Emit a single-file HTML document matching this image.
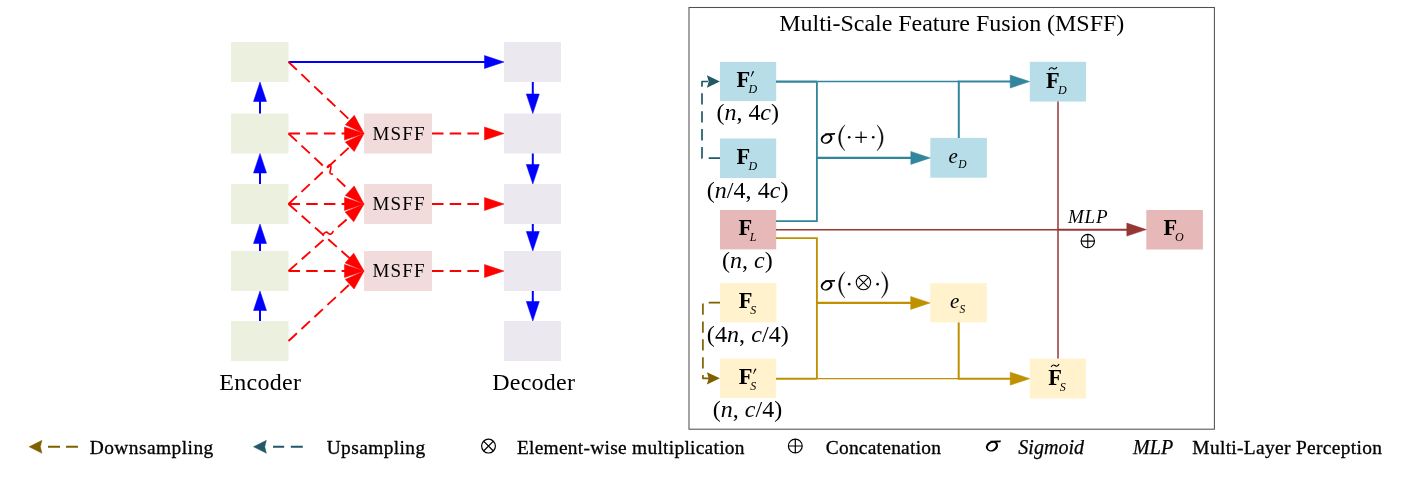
<!DOCTYPE html>
<html><head><meta charset="utf-8"><title>MSFF</title>
<style>
html,body{margin:0;padding:0;background:#fff;}
body{width:1402px;height:482px;overflow:hidden;font-family:"Liberation Serif",serif;}
svg{display:block;will-change:transform;}
</style></head><body>
<svg width="1402" height="482" viewBox="0 0 1402 482" font-family="'Liberation Serif', serif">
<rect x="0" y="0" width="1402" height="482" fill="#ffffff"/>
<rect x="231" y="42" width="57.5" height="40" fill="#ebf1de"/>
<rect x="504" y="42" width="57" height="40" fill="#ebe8f0"/>
<rect x="231" y="113.5" width="57.5" height="40" fill="#ebf1de"/>
<rect x="504" y="113.5" width="57" height="40" fill="#ebe8f0"/>
<rect x="231" y="184" width="57.5" height="40" fill="#ebf1de"/>
<rect x="504" y="184" width="57" height="40" fill="#ebe8f0"/>
<rect x="231" y="251" width="57.5" height="40" fill="#ebf1de"/>
<rect x="504" y="251" width="57" height="40" fill="#ebe8f0"/>
<rect x="231" y="321" width="57.5" height="40" fill="#ebf1de"/>
<rect x="504" y="321" width="57" height="40" fill="#ebe8f0"/>
<rect x="364" y="113.5" width="68" height="40" fill="#f2dcdb"/>
<rect x="364" y="184" width="68" height="40" fill="#f2dcdb"/>
<rect x="364" y="251" width="68" height="40" fill="#f2dcdb"/>
<line x1="260" y1="113.5" x2="260" y2="100" stroke="#0000ff" stroke-width="2"/>
<polygon points="260.00,82.00 266.50,101.50 253.50,101.50" fill="#0000ff" stroke="#0000ff" stroke-width="0.5" stroke-linejoin="miter"/>
<line x1="260" y1="184" x2="260" y2="171.5" stroke="#0000ff" stroke-width="2"/>
<polygon points="260.00,153.50 266.50,173.00 253.50,173.00" fill="#0000ff" stroke="#0000ff" stroke-width="0.5" stroke-linejoin="miter"/>
<line x1="260" y1="251" x2="260" y2="242" stroke="#0000ff" stroke-width="2"/>
<polygon points="260.00,224.00 266.50,243.50 253.50,243.50" fill="#0000ff" stroke="#0000ff" stroke-width="0.5" stroke-linejoin="miter"/>
<line x1="260" y1="321" x2="260" y2="309" stroke="#0000ff" stroke-width="2"/>
<polygon points="260.00,291.00 266.50,310.50 253.50,310.50" fill="#0000ff" stroke="#0000ff" stroke-width="0.5" stroke-linejoin="miter"/>
<line x1="532.8" y1="82" x2="532.8" y2="95.5" stroke="#0000ff" stroke-width="2"/>
<polygon points="532.80,113.50 526.30,94.00 539.30,94.00" fill="#0000ff" stroke="#0000ff" stroke-width="0.5" stroke-linejoin="miter"/>
<line x1="532.8" y1="153.5" x2="532.8" y2="166" stroke="#0000ff" stroke-width="2"/>
<polygon points="532.80,184.00 526.30,164.50 539.30,164.50" fill="#0000ff" stroke="#0000ff" stroke-width="0.5" stroke-linejoin="miter"/>
<line x1="532.8" y1="224" x2="532.8" y2="233" stroke="#0000ff" stroke-width="2"/>
<polygon points="532.80,251.00 526.30,231.50 539.30,231.50" fill="#0000ff" stroke="#0000ff" stroke-width="0.5" stroke-linejoin="miter"/>
<line x1="532.8" y1="291" x2="532.8" y2="303" stroke="#0000ff" stroke-width="2"/>
<polygon points="532.80,321.00 526.30,301.50 539.30,301.50" fill="#0000ff" stroke="#0000ff" stroke-width="0.5" stroke-linejoin="miter"/>
<line x1="288.5" y1="62" x2="486" y2="62" stroke="#0000ff" stroke-width="2"/>
<polygon points="504.00,62.00 484.50,68.50 484.50,55.50" fill="#0000ff" stroke="#0000ff" stroke-width="0.5" stroke-linejoin="miter"/>
<line x1="288.5" y1="62.0" x2="351.66" y2="121.81" stroke="#ff0000" stroke-width="1.9" stroke-dasharray="11.5 6.2"/>
<polygon points="364.00,133.50 345.37,124.81 354.31,115.37" fill="#ff0000" stroke="#ff0000" stroke-width="0.5" stroke-linejoin="miter"/>
<line x1="288.5" y1="133.5" x2="347.00" y2="133.50" stroke="#ff0000" stroke-width="1.9" stroke-dasharray="11.5 6.2"/>
<polygon points="364.00,133.50 344.50,140.00 344.50,127.00" fill="#ff0000" stroke="#ff0000" stroke-width="0.5" stroke-linejoin="miter"/>
<line x1="288.5" y1="204.0" x2="351.57" y2="145.10" stroke="#ff0000" stroke-width="1.9" stroke-dasharray="11.5 6.2"/>
<polygon points="364.00,133.50 354.18,151.56 345.31,142.06" fill="#ff0000" stroke="#ff0000" stroke-width="0.5" stroke-linejoin="miter"/>
<line x1="432" y1="133.5" x2="486" y2="133.5" stroke="#ff0000" stroke-width="1.9" stroke-dasharray="11.5 6.2"/>
<polygon points="504.00,133.50 484.50,140.00 484.50,127.00" fill="#ff0000" stroke="#ff0000" stroke-width="0.5" stroke-linejoin="miter"/>
<path d="M288.50 133.50L296.91 141.35 M301.44 145.58L309.84 153.43 M314.37 157.66L322.78 165.51 M336.89 178.68L345.29 186.53" stroke="#ff0000" stroke-width="1.9" fill="none"/>
<polygon points="364.00,204.00 345.31,195.44 354.18,185.94" fill="#ff0000" stroke="#ff0000" stroke-width="0.5" stroke-linejoin="miter"/>
<path d="M327.4 167.2 C328.4 165 330 164 330.7 165.8 C331.5 168 330.7 170 330.1 171.5 C329.6 173.2 330.6 174.2 332.4 174" stroke="#ff0000" stroke-width="1.7" fill="none" stroke-linecap="round"/>
<line x1="288.5" y1="204.0" x2="347.00" y2="204.00" stroke="#ff0000" stroke-width="1.9" stroke-dasharray="11.5 6.2"/>
<polygon points="364.00,204.00 344.50,210.50 344.50,197.50" fill="#ff0000" stroke="#ff0000" stroke-width="0.5" stroke-linejoin="miter"/>
<path d="M288.50 271.00L297.10 263.37 M301.74 259.25L310.34 251.62 M314.98 247.50L323.58 239.87 M338.01 227.06L346.62 219.43" stroke="#ff0000" stroke-width="1.9" fill="none"/>
<polygon points="364.00,204.00 353.73,221.80 345.10,212.08" fill="#ff0000" stroke="#ff0000" stroke-width="0.5" stroke-linejoin="miter"/>
<path d="M323.2 235.2 C324.3 231.6 326.8 231.6 328.2 233.2 C329.6 234.8 331.6 234.8 333 231.6" stroke="#ff0000" stroke-width="1.7" fill="none" stroke-linecap="round"/>
<line x1="432" y1="204.0" x2="486" y2="204.0" stroke="#ff0000" stroke-width="1.9" stroke-dasharray="11.5 6.2"/>
<polygon points="504.00,204.00 484.50,210.50 484.50,197.50" fill="#ff0000" stroke="#ff0000" stroke-width="0.5" stroke-linejoin="miter"/>
<line x1="288.5" y1="204.0" x2="351.28" y2="259.72" stroke="#ff0000" stroke-width="1.9" stroke-dasharray="11.5 6.2"/>
<polygon points="364.00,271.00 345.10,262.92 353.73,253.20" fill="#ff0000" stroke="#ff0000" stroke-width="0.5" stroke-linejoin="miter"/>
<line x1="288.5" y1="271.0" x2="347.00" y2="271.00" stroke="#ff0000" stroke-width="1.9" stroke-dasharray="11.5 6.2"/>
<polygon points="364.00,271.00 344.50,277.50 344.50,264.50" fill="#ff0000" stroke="#ff0000" stroke-width="0.5" stroke-linejoin="miter"/>
<line x1="288.5" y1="341.0" x2="351.53" y2="282.56" stroke="#ff0000" stroke-width="1.9" stroke-dasharray="11.5 6.2"/>
<polygon points="364.00,271.00 354.12,289.02 345.28,279.49" fill="#ff0000" stroke="#ff0000" stroke-width="0.5" stroke-linejoin="miter"/>
<line x1="432" y1="271.0" x2="486" y2="271.0" stroke="#ff0000" stroke-width="1.9" stroke-dasharray="11.5 6.2"/>
<polygon points="504.00,271.00 484.50,277.50 484.50,264.50" fill="#ff0000" stroke="#ff0000" stroke-width="0.5" stroke-linejoin="miter"/>
<text x="219.3" y="389.7" font-size="24" textLength="81.6" lengthAdjust="spacing">Encoder</text>
<text x="492.2" y="389.7" font-size="24" textLength="82.8" lengthAdjust="spacing">Decoder</text>
<text x="372.4" y="139.7" font-size="19" textLength="52.2" lengthAdjust="spacing">MSFF</text>
<text x="372.4" y="210.2" font-size="19" textLength="52.2" lengthAdjust="spacing">MSFF</text>
<text x="372.4" y="277.2" font-size="19" textLength="52.2" lengthAdjust="spacing">MSFF</text>
<rect x="689" y="7.5" width="525.4" height="421.7" fill="none" stroke="#505050" stroke-width="1.05"/>
<text x="779.3" y="30.9" font-size="24" textLength="345" lengthAdjust="spacing">Multi-Scale Feature Fusion (MSFF)</text>
<rect x="720" y="62" width="56.20" height="39.10" fill="#b7dee8"/>
<rect x="720" y="138.5" width="56.20" height="39.50" fill="#b7dee8"/>
<rect x="720" y="210" width="56.20" height="39.40" fill="#e6b9b8"/>
<rect x="720.1" y="283.1" width="56.30" height="39.20" fill="#fff2cc"/>
<rect x="720" y="358.6" width="56.20" height="39.50" fill="#fff2cc"/>
<rect x="930.3" y="137.9" width="56.60" height="39.80" fill="#b7dee8"/>
<rect x="930.2" y="283.2" width="56.70" height="39.20" fill="#fff2cc"/>
<rect x="1029.8" y="61.8" width="56.20" height="39.80" fill="#b7dee8"/>
<rect x="1029.8" y="358.6" width="56.20" height="39.90" fill="#fff2cc"/>
<rect x="1146.3" y="210" width="56.60" height="39.50" fill="#e6b9b8"/>
<polyline points="776,221.2 816.9,221.2 816.9,81.6" fill="none" stroke="#31859c" stroke-width="1.8" />
<polyline points="776,81.65 816.9,81.65" fill="none" stroke="#31859c" stroke-width="2.2" />
<polyline points="816.9,81.55 958.8,81.55" fill="none" stroke="#31859c" stroke-width="1.4" />
<polyline points="958.8,138 958.8,81.55 1012,81.55" fill="none" stroke="#31859c" stroke-width="2.0" />
<polygon points="1029.70,81.55 1010.20,88.05 1010.20,75.05" fill="#31859c" stroke="#31859c" stroke-width="0.5" stroke-linejoin="miter"/>
<polyline points="816.9,157.9 912,157.9" fill="none" stroke="#31859c" stroke-width="2.1" />
<polygon points="930.30,157.90 910.80,164.40 910.80,151.40" fill="#31859c" stroke="#31859c" stroke-width="0.5" stroke-linejoin="miter"/>
<polyline points="776,229.7 1058,229.7" fill="none" stroke="#953735" stroke-width="1.45" />
<polyline points="1058,229.7 1128,229.7" fill="none" stroke="#953735" stroke-width="2.0" />
<polygon points="1146.30,229.60 1126.80,236.10 1126.80,223.10" fill="#953735" stroke="#953735" stroke-width="0.5" stroke-linejoin="miter"/>
<polyline points="1058,101.6 1058,358.6" fill="none" stroke="#953735" stroke-width="1.5" />
<polyline points="776,238.1 816.9,238.1 816.9,378.7" fill="none" stroke="#bf9000" stroke-width="1.85" />
<polyline points="776,378.8 816.9,378.8" fill="none" stroke="#bf9000" stroke-width="1.9" />
<polyline points="816.9,378.65 958.7,378.65" fill="none" stroke="#bf9000" stroke-width="1.35" />
<polyline points="958.7,322.4 958.7,378.65 1012,378.65" fill="none" stroke="#bf9000" stroke-width="2.0" />
<polygon points="1029.70,378.65 1010.20,385.15 1010.20,372.15" fill="#bf9000" stroke="#bf9000" stroke-width="0.5" stroke-linejoin="miter"/>
<polyline points="816.9,302.9 912,302.9" fill="none" stroke="#bf9000" stroke-width="2.1" />
<polygon points="930.20,302.90 910.70,309.40 910.70,296.40" fill="#bf9000" stroke="#bf9000" stroke-width="0.5" stroke-linejoin="miter"/>
<polyline points="720,158.2 702,158.2 702,81.5 709,81.5" fill="none" stroke="#215968" stroke-width="1.7" stroke-dasharray="11.3 6.6" stroke-linejoin="round"/>
<polygon points="719.9,81.5 706.9,75.3 708.6999999999999,81.5 706.9,87.7" fill="#215968"/>
<polyline points="720,302.7 702.9,302.7 702.9,378.35 709,378.35" fill="none" stroke="#7f6000" stroke-width="1.7" stroke-dasharray="11.3 6.6" stroke-linejoin="round"/>
<polygon points="719.9,378.35 706.9,372.15000000000003 708.6999999999999,378.35 706.9,384.55" fill="#7f6000"/>
<text x="736.4" y="86.6" font-size="22.4" font-weight="bold">F</text>
<text x="748.4" y="92.8" font-size="12" font-style="italic">D</text>
<path d="M752.70 71.10 L754.20 71.60 L751.30 76.70 L750.70 76.50 Z" fill="#000"/>
<text x="736.6" y="163.8" font-size="22.4" font-weight="bold">F</text>
<text x="748.4" y="169.85" font-size="12" font-style="italic">D</text>
<text x="738.6" y="234.9" font-size="22.4" font-weight="bold">F</text>
<text x="749.7" y="240.6" font-size="12" font-style="italic">L</text>
<text x="738.7" y="308.2" font-size="22.4" font-weight="bold">F</text>
<text x="750.2" y="314.1" font-size="12" font-style="italic">S</text>
<text x="738.7" y="384.0" font-size="22.4" font-weight="bold">F</text>
<text x="750.2" y="389.9" font-size="12" font-style="italic">S</text>
<path d="M755.00 368.50 L756.50 369.00 L753.60 374.10 L753.00 373.90 Z" fill="#000"/>
<text x="1046.0" y="87.9" font-size="22.4" font-weight="bold">F</text>
<text x="1058.1" y="93.85" font-size="12" font-style="italic">D</text>
<path d="M1048.90 69.90 C1050.50 66.90 1052.10 67.70 1052.90 68.30 C1053.90 69.10 1055.30 69.90 1056.90 66.90" fill="none" stroke="#000" stroke-width="1.1"/>
<text x="1048.1999999999998" y="385.1" font-size="22.4" font-weight="bold">F</text>
<text x="1059.8" y="391.05" font-size="12" font-style="italic">S</text>
<path d="M1051.10 367.10 C1052.70 364.10 1054.30 364.90 1055.10 365.50 C1056.10 366.30 1057.50 367.10 1059.10 364.10" fill="none" stroke="#000" stroke-width="1.1"/>
<text x="1163.5" y="234.9" font-size="22.4" font-weight="bold">F</text>
<text x="1175.0" y="241.1" font-size="12" font-style="italic">O</text>
<text x="948.5" y="163" font-size="21" font-style="italic">e</text><text x="958.2" y="168.4" font-size="11.5" font-style="italic">D</text>
<text x="950" y="308" font-size="21" font-style="italic">e</text><text x="959.5" y="313.4" font-size="11.5" font-style="italic">S</text>
<text x="716.5" y="120.05" font-size="24" textLength="62.5" lengthAdjust="spacing" xml:space="preserve"><tspan font-style="normal">(</tspan><tspan font-style="italic">n</tspan><tspan font-style="normal">, 4</tspan><tspan font-style="italic">c</tspan><tspan font-style="normal">)</tspan></text>
<text x="706.8" y="197.8" font-size="24" textLength="81.6" lengthAdjust="spacing" xml:space="preserve"><tspan font-style="normal">(</tspan><tspan font-style="italic">n</tspan><tspan font-style="normal">/4, 4</tspan><tspan font-style="italic">c</tspan><tspan font-style="normal">)</tspan></text>
<text x="722.0" y="267.6" font-size="24" textLength="50.8" lengthAdjust="spacing" xml:space="preserve"><tspan font-style="normal">(</tspan><tspan font-style="italic">n</tspan><tspan font-style="normal">, </tspan><tspan font-style="italic">c</tspan><tspan font-style="normal">)</tspan></text>
<text x="706.8" y="341.6" font-size="24" textLength="82.0" lengthAdjust="spacing" xml:space="preserve"><tspan font-style="normal">(4</tspan><tspan font-style="italic">n</tspan><tspan font-style="normal">, </tspan><tspan font-style="italic">c</tspan><tspan font-style="normal">/4)</tspan></text>
<text x="712.7" y="416.7" font-size="24" textLength="69.6" lengthAdjust="spacing" xml:space="preserve"><tspan font-style="normal">(</tspan><tspan font-style="italic">n</tspan><tspan font-style="normal">, </tspan><tspan font-style="italic">c</tspan><tspan font-style="normal">/4)</tspan></text>
<g transform="translate(820.9,143.8) scale(1.0)"><ellipse cx="5.7" cy="-5.15" rx="6.0" ry="4.85" transform="rotate(-22 5.7 -5.15)" fill="#000"/><ellipse cx="5.55" cy="-5.0" rx="4.25" ry="2.95" transform="rotate(-42 5.55 -5.0)" fill="#fff"/><polygon points="3.9,-10.35 14.3,-10.75 13.8,-9.0 8.9,-8.85 5.2,-8.6" fill="#000"/></g>
<path d="M844.90 124.90 C836.63 131.89 836.63 143.81 844.90 150.80 C838.70 143.29 838.70 132.41 844.90 124.90Z" fill="#000" stroke="#000" stroke-width="0.45" stroke-linejoin="round"/>
<circle cx="849.2" cy="137.3" r="1.3" fill="#000"/>
<path d="M855.3 137.3H866.9M861.1 131.60000000000002V143.0" stroke="#000" stroke-width="1.25" fill="none"/>
<circle cx="873.25" cy="137.3" r="1.3" fill="#000"/>
<path d="M877.00 124.90 C885.13 131.89 885.13 143.81 877.00 150.80 C883.07 143.29 883.07 132.41 877.00 124.90Z" fill="#000" stroke="#000" stroke-width="0.45" stroke-linejoin="round"/>
<g transform="translate(820.9,290.65) scale(1.0)"><ellipse cx="5.7" cy="-5.15" rx="6.0" ry="4.85" transform="rotate(-22 5.7 -5.15)" fill="#000"/><ellipse cx="5.55" cy="-5.0" rx="4.25" ry="2.95" transform="rotate(-42 5.55 -5.0)" fill="#fff"/><polygon points="3.9,-10.35 14.3,-10.75 13.8,-9.0 8.9,-8.85 5.2,-8.6" fill="#000"/></g>
<path d="M844.90 271.80 C836.63 278.87 836.63 290.93 844.90 298.00 C838.70 290.40 838.70 279.40 844.90 271.80Z" fill="#000" stroke="#000" stroke-width="0.45" stroke-linejoin="round"/>
<circle cx="849.2" cy="284.15" r="1.3" fill="#000"/>
<circle cx="863.45" cy="282.5" r="7.2" stroke="#000" stroke-width="1.1" fill="none"/>
<path d="M858.36 277.41L868.54 287.59M868.54 277.41L858.36 287.59" stroke="#000" stroke-width="1.1" fill="none"/>
<circle cx="877.6" cy="284.15" r="1.3" fill="#000"/>
<path d="M881.50 271.80 C889.90 278.87 889.90 290.93 881.50 298.00 C887.83 290.40 887.83 279.40 881.50 271.80Z" fill="#000" stroke="#000" stroke-width="0.45" stroke-linejoin="round"/>
<text x="1067.9" y="223.1" font-size="19" font-style="italic" textLength="39.8" lengthAdjust="spacing">MLP</text>
<circle cx="1087.8" cy="241.1" r="6.7" stroke="#000" stroke-width="1.1" fill="none"/>
<path d="M1081.1 241.1H1094.5M1087.8 234.4V247.8" stroke="#000" stroke-width="1.1" fill="none"/>
<polygon points="29,446.8 42,440.3 40.4,446.8 42,453.3" fill="#7f6000" stroke="#7f6000" stroke-width="0.4"/>
<path d="M48 446.8H60M66 446.8H78" stroke="#7f6000" stroke-width="2"/>
<text x="89.7" y="453.8" font-size="19.4" stroke="#000" stroke-width="0.3" textLength="123.6" lengthAdjust="spacing">Downsampling</text>
<polygon points="253.4,446.8 266.4,440.3 264.79999999999995,446.8 266.4,453.3" fill="#215968" stroke="#215968" stroke-width="0.4"/>
<path d="M273 446.8H284.2M290.8 446.8H302.8" stroke="#215968" stroke-width="2"/>
<text x="326.7" y="453.8" font-size="19.4" stroke="#000" stroke-width="0.3" textLength="98.4" lengthAdjust="spacing">Upsampling</text>
<circle cx="488.5" cy="446.1" r="6.9" stroke="#000" stroke-width="1.2" fill="none"/>
<path d="M483.6 441.2L493.4 451M493.4 441.2L483.6 451" stroke="#000" stroke-width="1.2" fill="none"/>
<text x="516.9" y="453.8" font-size="19.4" stroke="#000" stroke-width="0.3" textLength="227.6" lengthAdjust="spacing">Element-wise multiplication</text>
<circle cx="795.3" cy="446" r="6.9" stroke="#000" stroke-width="1.2" fill="none"/>
<path d="M788.4 446H802.2M795.3 439.1V452.9" stroke="#000" stroke-width="1.2" fill="none"/>
<text x="825.7" y="453.8" font-size="19.4" stroke="#000" stroke-width="0.3" textLength="115.3" lengthAdjust="spacing">Concatenation</text>
<g transform="translate(986.1,451.6) scale(1.04)"><ellipse cx="5.7" cy="-5.15" rx="6.0" ry="4.85" transform="rotate(-22 5.7 -5.15)" fill="#000"/><ellipse cx="5.55" cy="-5.0" rx="4.25" ry="2.95" transform="rotate(-42 5.55 -5.0)" fill="#fff"/><polygon points="3.9,-10.35 14.3,-10.75 13.8,-9.0 8.9,-8.85 5.2,-8.6" fill="#000"/></g>
<text x="1018.3" y="454" font-size="20" font-style="italic" stroke="#000" stroke-width="0.25" textLength="65.7" lengthAdjust="spacing">Sigmoid</text>
<text x="1133" y="454" font-size="20" font-style="italic" stroke="#000" stroke-width="0.25" textLength="40.2" lengthAdjust="spacing">MLP</text>
<text x="1192.3" y="453.8" font-size="19.4" stroke="#000" stroke-width="0.3" textLength="189.6" lengthAdjust="spacing">Multi-Layer Perception</text>
</svg>
</body></html>
